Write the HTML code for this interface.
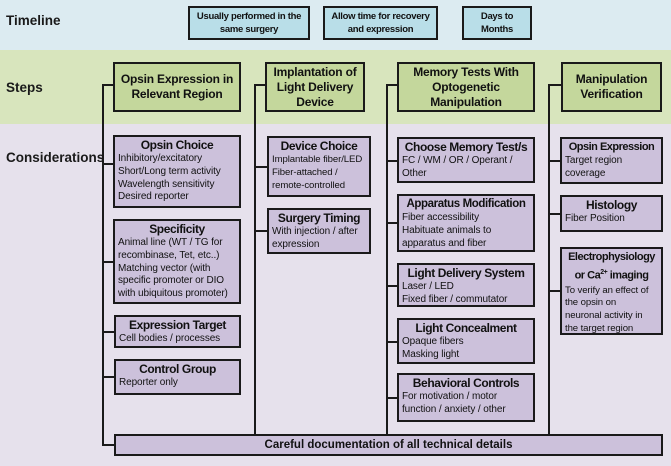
<!DOCTYPE html>
<html><head><meta charset="utf-8"><style>
*{margin:0;padding:0;box-sizing:border-box}
body{width:671px;height:466px;position:relative;overflow:hidden;font-family:"Liberation Sans",sans-serif;background:#e6e1ec;color:#111}
.band{position:absolute;left:0;width:671px}
.lbl{position:absolute;left:6px;font-weight:bold;font-size:13.5px;color:#1a1a1a}
.b{position:absolute;border:2px solid #1a1a1a}
.t{background:#b9dee8;font-weight:bold;font-size:9.5px;letter-spacing:-0.3px;text-align:center;line-height:13px;display:flex;align-items:center;justify-content:center;white-space:nowrap}
.s{background:#c4d79c;font-weight:bold;font-size:12px;letter-spacing:-0.2px;text-align:center;line-height:15px;display:flex;align-items:center;justify-content:center;white-space:nowrap}
.c{background:#ccc1db;padding:1px 3px;font-size:10px;line-height:12.8px;white-space:nowrap;letter-spacing:-0.1px}
.c h4{font-size:12px;letter-spacing:-0.4px;text-align:center;line-height:14px;margin-bottom:1px}
.v{position:absolute;width:2px;background:#1a1a1a}
.h{position:absolute;height:2px;background:#1a1a1a}
</style></head><body>
<div class="band" style="top:0;height:50px;background:#dcebf1"></div>
<div class="band" style="top:50px;height:74px;background:#d8e5bd"></div>
<div class="lbl" style="top:13px">Timeline</div>
<div class="lbl" style="top:80px">Steps</div>
<div class="lbl" style="top:150px">Considerations</div>

<div class="b t" style="left:188px;top:6px;width:122px;height:34px">Usually performed in the<br>same surgery</div>
<div class="b t" style="left:323px;top:6px;width:115px;height:34px">Allow time for recovery<br>and expression</div>
<div class="b t" style="left:462px;top:6px;width:70px;height:34px">Days to<br>Months</div>

<div class="b s" style="left:113px;top:62px;width:128px;height:50px">Opsin Expression in<br>Relevant Region</div>
<div class="b s" style="left:265px;top:62px;width:100px;height:50px">Implantation of<br>Light Delivery<br>Device</div>
<div class="b s" style="left:397px;top:62px;width:138px;height:50px">Memory Tests With<br>Optogenetic<br>Manipulation</div>
<div class="b s" style="left:561px;top:62px;width:101px;height:50px">Manipulation<br>Verification</div>

<div class="v" style="left:102px;top:84px;height:362px"></div>
<div class="h" style="left:102px;top:84px;width:12px"></div>
<div class="v" style="left:254px;top:84px;height:350px"></div>
<div class="h" style="left:254px;top:84px;width:12px"></div>
<div class="v" style="left:386px;top:84px;height:350px"></div>
<div class="h" style="left:386px;top:84px;width:12px"></div>
<div class="v" style="left:548px;top:84px;height:350px"></div>
<div class="h" style="left:548px;top:84px;width:13px"></div>

<div class="h" style="left:102px;top:163px;width:12px"></div>
<div class="h" style="left:102px;top:261px;width:12px"></div>
<div class="h" style="left:102px;top:331px;width:12px"></div>
<div class="h" style="left:102px;top:376px;width:12px"></div>
<div class="h" style="left:102px;top:444px;width:12px"></div>
<div class="h" style="left:254px;top:166px;width:13px"></div>
<div class="h" style="left:254px;top:230px;width:13px"></div>
<div class="h" style="left:386px;top:160px;width:12px"></div>
<div class="h" style="left:386px;top:222px;width:12px"></div>
<div class="h" style="left:386px;top:285px;width:12px"></div>
<div class="h" style="left:386px;top:341px;width:12px"></div>
<div class="h" style="left:386px;top:397px;width:12px"></div>
<div class="h" style="left:548px;top:160px;width:13px"></div>
<div class="h" style="left:548px;top:213px;width:13px"></div>
<div class="h" style="left:548px;top:290px;width:13px"></div>

<div class="b c" style="left:113px;top:135px;width:128px;height:73px"><h4>Opsin Choice</h4>Inhibitory/excitatory<br>Short/Long term activity<br>Wavelength sensitivity<br>Desired reporter</div>
<div class="b c" style="left:113px;top:219px;width:128px;height:85px"><h4>Specificity</h4>Animal line (WT / TG for<br>recombinase, Tet, etc..)<br>Matching vector (with<br>specific promoter or DIO<br>with ubiquitous promoter)</div>
<div class="b c" style="left:114px;top:315px;width:127px;height:33px"><h4>Expression Target</h4>Cell bodies / processes</div>
<div class="b c" style="left:114px;top:359px;width:127px;height:36px"><h4>Control Group</h4>Reporter only</div>

<div class="b c" style="left:267px;top:136px;width:104px;height:61px;font-size:9.6px"><h4>Device Choice</h4>Implantable fiber/LED<br>Fiber-attached /<br>remote-controlled</div>
<div class="b c" style="left:267px;top:208px;width:104px;height:46px"><h4>Surgery Timing</h4>With injection / after<br>expression</div>

<div class="b c" style="left:397px;top:137px;width:138px;height:46px"><h4>Choose Memory Test/s</h4>FC / WM / OR / Operant /<br>Other</div>
<div class="b c" style="left:397px;top:194px;width:138px;height:58px"><h4 style="font-size:11.5px">Apparatus Modification</h4>Fiber accessibility<br>Habituate animals to<br>apparatus and fiber</div>
<div class="b c" style="left:397px;top:263px;width:138px;height:44px"><h4>Light Delivery System</h4>Laser / LED<br>Fixed fiber / commutator</div>
<div class="b c" style="left:397px;top:318px;width:138px;height:46px"><h4>Light Concealment</h4>Opaque fibers<br>Masking light</div>
<div class="b c" style="left:397px;top:373px;width:138px;height:49px"><h4>Behavioral Controls</h4>For motivation / motor<br>function / anxiety / other</div>

<div class="b c" style="left:560px;top:137px;width:103px;height:47px"><h4 style="font-size:11px;letter-spacing:-0.5px">Opsin Expression</h4>Target region<br>coverage</div>
<div class="b c" style="left:560px;top:195px;width:103px;height:37px"><h4>Histology</h4>Fiber Position</div>
<div class="b c" style="left:560px;top:247px;width:103px;height:88px;font-size:9.6px"><h4 style="line-height:15px;font-size:11px;letter-spacing:-0.5px">Electrophysiology<br>or Ca<sup style="font-size:7px">2+</sup> imaging</h4>To verify an effect of<br>the opsin on<br>neuronal activity in<br>the target region</div>

<div class="b" style="left:114px;top:434px;width:549px;height:22px;background:#ccc1db;font-weight:bold;font-size:11.5px;text-align:center;line-height:18px">Careful documentation of all technical details</div>
</body></html>
